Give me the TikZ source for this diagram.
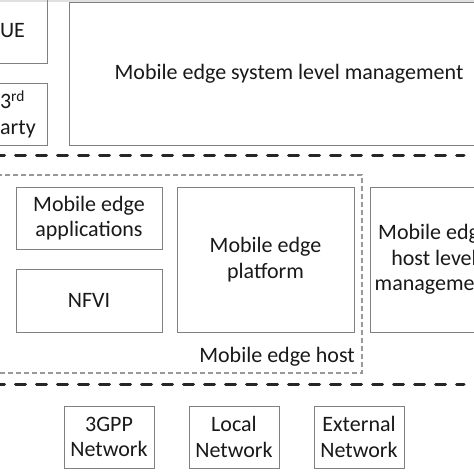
\documentclass[tikz,border=0pt]{standalone}
\usepackage{fontspec}
\setmainfont{Carlito}
\begin{document}
\begin{tikzpicture}[x=1pt,y=-1pt,
  box/.style={draw=black!50, line width=1pt, inner sep=0pt, align=center,
    font=\fontsize{22}{25.5}\selectfont, text=black!90},
  thickdash/.style={line width=3pt, black!85, line cap=round, dash pattern=on 10pt off 11pt},
  hostdash/.style={draw=black!40, line width=1.2pt, dash pattern=on 5pt off 3pt},
  lbl/.style={font=\fontsize{22}{25.5}\selectfont, text=black!90, inner sep=0pt}]
\useasboundingbox (0,0) rectangle (474,474);
\clip (0,0) rectangle (474,474);
\fill[white] (0,0) rectangle (474,474);
% top light band
\draw[black!12, line width=2.5pt] (0,0.5) -- (474,0.5);
% top region
\node[box, minimum width=69pt, minimum height=64pt] (ue) at (12.5,31) {UE};
\node[box, minimum width=69pt, minimum height=62pt] (third) at (12.5,114) {3\textsuperscript{rd}\\Party};
\node[box, minimum width=440pt, minimum height=143pt] (sys) at (289,73.5) {Mobile edge system level management};
% dashed separators
\coordinate (d1a) at (-5.5,155);
\coordinate (d1b) at (464,155);
\coordinate (d2a) at (-5.5,384);
\coordinate (d2b) at (464,384);
\draw[thickdash] (d1a) -- (d1b);
\draw[thickdash] (d2a) -- (d2b);
% host box
\draw[hostdash] (-10,175) rectangle (362,373);
\node[lbl, anchor=base east] (hostlbl) at (355,362) {Mobile edge host};
\node[box, minimum width=146pt, minimum height=62pt] (apps) at (89,218) {Mobile edge\\applications};
\node[box, minimum width=146pt, minimum height=63pt] (nfvi) at (89,300.5) {NFVI};
\node[box, minimum width=177pt, minimum height=145pt] (plat) at (265.5,259.5) {Mobile edge\\platform};
\node[box, minimum width=128pt, minimum height=145pt] (hlm) at (434,259.5) {Mobile edge\\host level\\management};
% networks
\node[box, minimum width=90pt, minimum height=62pt] (n3gpp) at (109,437) {3GPP\\Network};
\node[box, minimum width=90pt, minimum height=62pt] (nloc) at (234,437) {Local\\Network};
\node[box, minimum width=90pt, minimum height=62pt] (next) at (359,437) {External\\Network};
\end{tikzpicture}
\end{document}
